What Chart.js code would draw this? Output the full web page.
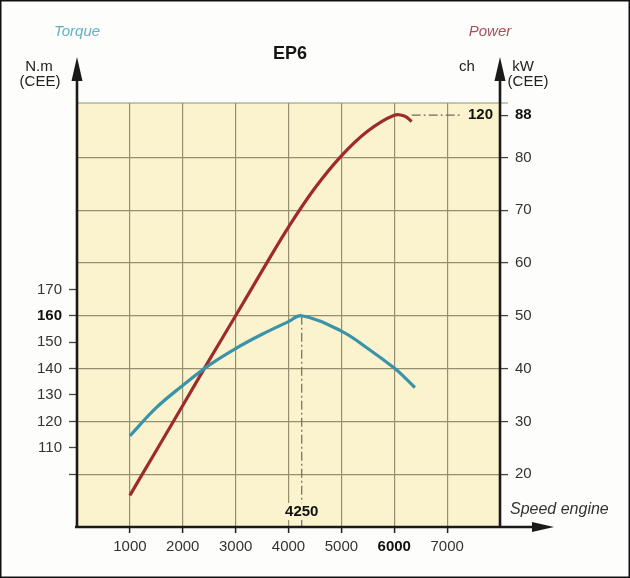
<!DOCTYPE html>
<html>
<head>
<meta charset="utf-8">
<script src="https://cdn.jsdelivr.net/npm/chart.js@4.4.1/dist/chart.umd.min.js"></script>
<style>
    html, body { margin: 0; padding: 0; background: #fdfdfb; }
    #wrap { width: 630px; height: 578px; position: relative; }
</style>
</head>
<body>
<div id="wrap"><canvas id="engineChart" width="630" height="578"></canvas></div>
<script>
// Curve data
const torqueRpm = [1000, 1500, 2000, 2500, 3000, 3500, 4000, 4250, 5000, 5500, 6000, 6200, 6390];
const torqueNm  = [114.5, 125.2, 133.6, 141.3, 147.6, 153, 157.8, 160, 154.2, 147.6, 140.2, 136.6, 132.8];

const powerRpm = [1000, 1500, 2000, 2500, 3000, 3500, 4000, 4500, 5000, 5500, 6000, 6200, 6330];
const powerKw  = [16, 24.5, 33, 41.6, 50, 58.5, 66.8, 74.2, 80.3, 85, 88, 87.8, 86.8];

// Axis ticks
const rpmTicks    = [1000, 2000, 3000, 4000, 5000, 6000, 7000];
const torqueTicks = [100, 110, 120, 130, 140, 150, 160, 170];
const kwTicks     = [20, 30, 40, 50, 60, 70, 80, 88];

// Highlighted values
const peakTorqueRpm = 4250;
const peakTorque = 160;
const peakPowerKw = 88;
const peakPowerCh = 120;
const boldRpm = 6000;

const FONT = "'Liberation Sans', Arial, sans-serif";
const plotFill = '#fbf3cd';
const gridColor = '#958f72';
const torqueColor = '#3a93a8';
const powerColor = '#9e2a2c';

function tickFont(boldValue, size) {
    return ctx => ({
        family: FONT,
        size: size,
        weight: ctx.tick && ctx.tick.value === boldValue ? 'bold' : 'normal'
    });
}
function tickColor(boldValue) {
    return ctx => (ctx.tick && ctx.tick.value === boldValue ? '#111' : '#333');
}

// Yellow plot background
const plotBg = {
    id: 'plotBg',
    beforeDraw(chart) {
        const { ctx, chartArea: a } = chart;
        ctx.save();
        ctx.fillStyle = '#fdfdfb';
        ctx.fillRect(0, 0, chart.width, chart.height);
        ctx.fillStyle = plotFill;
        ctx.fillRect(a.left, a.top, a.right - a.left, a.bottom - a.top);
        ctx.restore();
    }
};

function dashDot(ctx, x1, y1, x2, y2) {
    ctx.save();
    ctx.strokeStyle = '#6f6c60';
    ctx.lineWidth = 1.2;
    ctx.setLineDash([9, 3, 2, 3]);
    ctx.beginPath();
    ctx.moveTo(x1, y1);
    ctx.lineTo(x2, y2);
    ctx.stroke();
    ctx.restore();
}

function arrow(ctx, tipX, tipY, dir) {
    ctx.beginPath();
    if (dir === 'up') {
        ctx.moveTo(tipX, tipY);
        ctx.lineTo(tipX - 5.5, tipY + 24);
        ctx.lineTo(tipX + 5.5, tipY + 24);
    } else {
        ctx.moveTo(tipX, tipY);
        ctx.lineTo(tipX - 22, tipY - 5);
        ctx.lineTo(tipX - 22, tipY + 5);
    }
    ctx.closePath();
    ctx.fill();
}

function text(ctx, str, x, y, font, color, align) {
    ctx.font = font;
    ctx.fillStyle = color;
    ctx.textAlign = align || 'center';
    ctx.textBaseline = 'middle';
    ctx.fillText(str, x, y);
}

// Reference lines, axes with arrows and the titles
const decor = {
    id: 'decor',
    beforeDatasetsDraw(chart) {
        const { ctx, chartArea: a, scales } = chart;
        const xPeak = scales.x.getPixelForValue(peakTorqueRpm);
        const yPeak = scales.yT.getPixelForValue(peakTorque);
        dashDot(ctx, xPeak, yPeak, xPeak, a.bottom);

        const yKw = scales.y.getPixelForValue(peakPowerKw);
        const xEnd = scales.x.getPixelForValue(powerRpm[powerRpm.length - 1]);
        dashDot(ctx, xEnd, yKw, a.right - 38, yKw);

        // label over the vertical line
        ctx.save();
        ctx.fillStyle = plotFill;
        ctx.fillRect(xPeak - 20, a.bottom - 24, 40, 17);
        text(ctx, String(peakTorqueRpm), xPeak, a.bottom - 15, 'bold 15px ' + FONT, '#111');
        ctx.restore();
    },
    afterDatasetsDraw(chart) {
        const { ctx, chartArea: a, scales } = chart;
        ctx.save();

        // thin top border
        ctx.strokeStyle = gridColor;
        ctx.lineWidth = 1.2;
        ctx.beginPath();
        ctx.moveTo(a.left, a.top);
        ctx.lineTo(a.right + 8, a.top);
        ctx.stroke();

        // axis lines
        ctx.strokeStyle = '#1a1a1a';
        ctx.fillStyle = '#1a1a1a';
        ctx.lineWidth = 2.6;
        ctx.beginPath();
        ctx.moveTo(a.left, a.bottom + 1);
        ctx.lineTo(a.left, 70);
        ctx.moveTo(a.right, a.bottom);
        ctx.lineTo(a.right, 70);
        ctx.moveTo(a.left - 2, a.bottom);
        ctx.lineTo(540, a.bottom);
        ctx.stroke();
        arrow(ctx, a.left, 57, 'up');
        arrow(ctx, a.right, 57, 'up');
        arrow(ctx, 554, a.bottom, 'right');

        // ch value at the power peak
        const yKw = scales.y.getPixelForValue(peakPowerKw);
        text(ctx, String(peakPowerCh), a.right - 7, yKw, 'bold 15px ' + FONT, '#111', 'right');

        // titles and units
        text(ctx, 'EP6', 290, 54, 'bold 18px ' + FONT, '#151515');
        text(ctx, 'Torque', 77, 32, 'italic 15px ' + FONT, '#63b2c3');
        text(ctx, 'Power', 490, 32, 'italic 15px ' + FONT, '#a8505c');
        text(ctx, 'N.m', 39, 67, '15px ' + FONT, '#222');
        text(ctx, '(CEE)', 40, 82, '15px ' + FONT, '#222');
        text(ctx, 'ch', 467, 67, '15px ' + FONT, '#222');
        text(ctx, 'kW', 523, 67, '15px ' + FONT, '#222');
        text(ctx, '(CEE)', 528, 82, '15px ' + FONT, '#222');
        text(ctx, 'Speed engine', 510, 510, 'italic 16px ' + FONT, '#333', 'left');

        // dark frame of the picture
        ctx.strokeStyle = '#111';
        ctx.lineWidth = 3;
        ctx.strokeRect(0, 0, chart.width, chart.height);
        ctx.restore();
    }
};

const ctx = document.getElementById('engineChart');

new Chart(ctx, {
    type: 'line',
    data: {
        datasets: [
            {
                label: 'Torque',
                data: torqueRpm.map((r, i) => ({ x: r, y: torqueNm[i] })),
                yAxisID: 'yT',
                borderColor: torqueColor,
                borderWidth: 3.2,
                pointRadius: 0,
                tension: 0.4,
                fill: false
            },
            {
                label: 'Power',
                data: powerRpm.map((r, i) => ({ x: r, y: powerKw[i] })),
                yAxisID: 'y',
                borderColor: powerColor,
                borderWidth: 3.2,
                pointRadius: 0,
                tension: 0.4,
                fill: false
            }
        ]
    },
    options: {
        responsive: false,
        animation: false,
        layout: { padding: { top: 103, left: 0, right: 0, bottom: 0 } },
        plugins: {
            legend: { display: false },
            tooltip: { enabled: false },
            title: { display: false }
        },
        scales: {
            x: {
                type: 'linear',
                position: 'bottom',
                min: 0,
                max: 8000,
                afterBuildTicks: s => { s.ticks = rpmTicks.map(v => ({ value: v })); },
                afterFit: s => { s.height = 51; },
                border: { display: false },
                grid: { color: gridColor, lineWidth: 1.2, tickLength: 6, tickColor: '#222', tickWidth: 1.5 },
                ticks: {
                    autoSkip: false,
                    maxRotation: 0,
                    padding: 5,
                    font: tickFont(boldRpm, 15),
                    color: tickColor(boldRpm),
                    callback: v => String(v)
                }
            },
            yT: {
                type: 'linear',
                position: 'left',
                min: 80,
                max: 240.6,
                afterBuildTicks: s => { s.ticks = torqueTicks.map(v => ({ value: v })); },
                afterFit: s => { s.width = 77; },
                border: { display: false },
                grid: { drawOnChartArea: false, tickLength: 8, tickColor: '#444', tickWidth: 1.3 },
                ticks: {
                    padding: 7,
                    font: tickFont(peakTorque, 15),
                    color: tickColor(peakTorque),
                    callback: v => (v === 100 ? '' : String(v))
                }
            },
            y: {
                type: 'linear',
                position: 'right',
                min: 10,
                max: 90.3,
                afterBuildTicks: s => { s.ticks = kwTicks.map(v => ({ value: v })); },
                afterFit: s => { s.width = 130; },
                border: { display: false },
                grid: {
                    color: c => (c.tick && c.tick.value === peakPowerKw ? 'rgba(0,0,0,0)' : gridColor),
                    lineWidth: 1.2,
                    tickLength: 8,
                    tickColor: '#444',
                    tickWidth: 1.3
                },
                ticks: {
                    padding: 7,
                    font: tickFont(peakPowerKw, 15),
                    color: tickColor(peakPowerKw),
                    callback: v => String(v)
                }
            }
        }
    },
    plugins: [plotBg, decor]
});
</script>
</body>
</html>
